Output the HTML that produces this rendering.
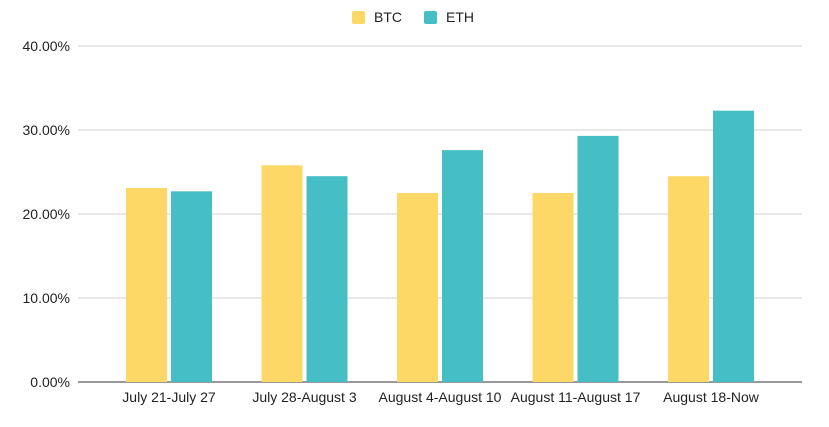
<!DOCTYPE html>
<html><head><meta charset="utf-8"><style>
body{margin:0;background:#fff;font-family:"Liberation Sans",Arial,sans-serif}
svg text{font-family:"Liberation Sans",Arial,sans-serif;fill:#222}
</style></head><body>
<svg id="chart" width="829" height="422" xmlns="http://www.w3.org/2000/svg">
<g id="legend">
<rect x="352" y="11" width="13" height="13" rx="2" fill="#FDD866"/>
<text x="374" y="22" font-size="14">BTC</text>
<rect x="424" y="11" width="13" height="13" rx="2" fill="#45BEC6"/>
<text x="446" y="22" font-size="14">ETH</text>
</g>
<g id="grid"></g><g id="bars"></g><g id="xlabels"></g>
</svg>
<script>
const categories=["July 21-July 27","July 28-August 3","August 4-August 10","August 11-August 17","August 18-Now"];
const btcValues=[23.1,25.8,22.5,22.5,24.5];
const ethValues=[22.7,24.5,27.6,29.3,32.3];
const yTicks=[0,10,20,30,40];
const tickLabels=["0.00%","10.00%","20.00%","30.00%","40.00%"];
const NS="http://www.w3.org/2000/svg";
const y=v=>382-v*8.4;
const xc=i=>169+i*135.5;
const grid=document.getElementById('grid'),bars=document.getElementById('bars'),xl=document.getElementById('xlabels');
function mk(tag,attrs,parent){const e=document.createElementNS(NS,tag);for(const k in attrs)e.setAttribute(k,attrs[k]);parent.appendChild(e);return e;}
yTicks.forEach((t,i)=>{
  const l=mk('line',{x1:78,x2:802,y1:y(t),y2:y(t),stroke:t===0?'#333':'#d0d0d0','stroke-width':1},grid);
  
  
  const tx=mk('text',{x:70,y:y(t)+5,'text-anchor':'end','font-size':14},grid);
  tx.textContent=tickLabels[i];
  
  
});
categories.forEach((c,i)=>{
  const b=mk('rect',{x:xc(i)-43,y:y(btcValues[i]),width:41,height:382-y(btcValues[i]),fill:'#FDD866'},bars);
  
  
  const e=mk('rect',{x:xc(i)+2,y:y(ethValues[i]),width:41,height:382-y(ethValues[i]),fill:'#45BEC6'},bars);
  
  
  const t=mk('text',{x:xc(i),y:402,'text-anchor':'middle','font-size':14},xl);
  t.textContent=c;
  
  
});
</script>
</body></html>
